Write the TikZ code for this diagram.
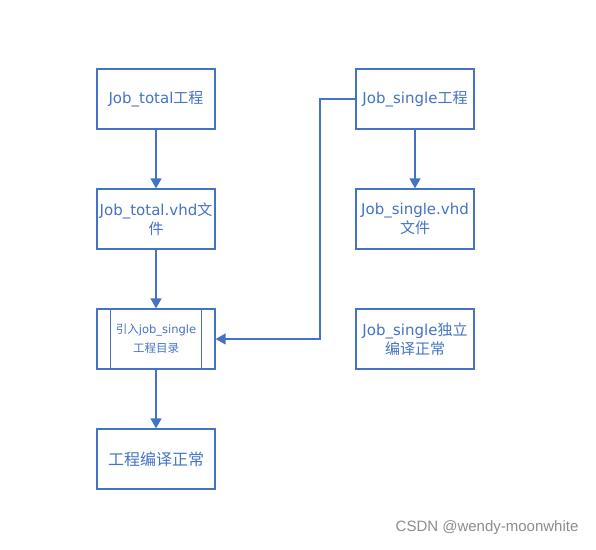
\documentclass[tikz,border=0pt]{standalone}
\usepackage{fontspec}
\setmainfont{DejaVu Sans}
\newfontfamily\cjk{Noto Sans CJK SC}
\newfontfamily\wmfont{Liberation Sans}
\usepackage{tikz}
\usetikzlibrary{arrows.meta,positioning,calc}
\definecolor{flowblue}{RGB}{68,114,196}

\begin{document}
\begin{tikzpicture}[x=1pt,y=-1pt]
        \tikzset{
            flowbox/.style={
                draw=flowblue,line width=1.3pt,text=flowblue,
                minimum width=118pt,minimum height=60pt,inner sep=0pt,
                align=center,font=\fontsize{15}{19}\selectfont
            },
            flowline/.style={
                draw=flowblue,line width=1.4pt,
                -{Triangle[width=11pt,length=10pt]}
            }
        }
        \useasboundingbox (0,0) rectangle (596,549);
        % left column
        \node[flowbox] (total) at (156,99) {Job\_total{\cjk 工程}};
        \node[flowbox] (totalvhd) at (156,219) {Job\_total.vhd{\cjk 文}\\{\cjk 件}};
        \node[flowbox,font=\fontsize{11.5}{19}\selectfont] (include) at (156,339) {{\cjk 引入}job\_single\\{\cjk 工程目录}};
        \draw[flowblue,line width=1.3pt] ($(include.north west)+(14,0)$) -- ($(include.south west)+(14,0)$);
        \draw[flowblue,line width=1.3pt] ($(include.north east)+(-14,0)$) -- ($(include.south east)+(-14,0)$);
        \node[flowbox,font=\fontsize{16}{19}\selectfont] (compile) at (156,459) {\cjk 工程编译正常};
        % right column
        \node[flowbox] (single) at (415,99) {Job\_single{\cjk 工程}};
        \node[flowbox] (singlevhd) at (415,219) {Job\_single.vhd\\{\cjk 文件}};
        \node[flowbox] (singleok) at (415,339) {Job\_single{\cjk 独立}\\{\cjk 编译正常}};
        % connectors
        \draw[flowline] (total) -- (totalvhd);
        \draw[flowline] (totalvhd) -- (include);
        \draw[flowline] (include) -- (compile);
        \draw[flowline] (single) -- (singlevhd);
        \coordinate (bend) at (320,99);
        \draw[flowline] (single.west) -- (bend) |- (include.east);
        % watermark
        \node[text=black!45,font=\wmfont\fontsize{15}{17}\selectfont,anchor=east] (mark) at (582,528) {CSDN @wendy-moonwhite};
\end{tikzpicture}
\end{document}
